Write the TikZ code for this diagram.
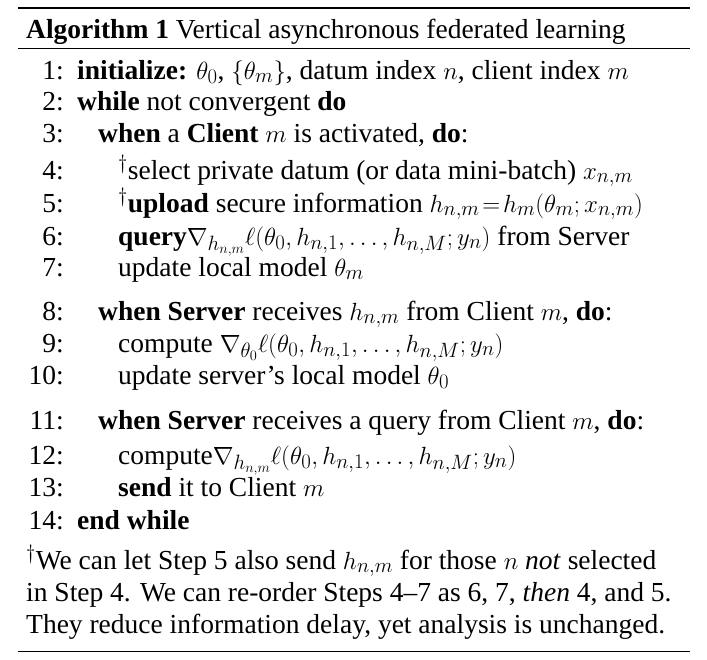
\documentclass[tikz,border=0pt]{standalone}
\usepackage{amsmath}
\usepackage{fontspec}
\setmainfont{Liberation Serif}
\begin{document}
\begin{tikzpicture}[x=1pt,y=-1pt,
  txt/.style={anchor=base west,inner sep=0pt,font=\fontsize{27.5}{32}\selectfont},
  num/.style={anchor=base east,inner sep=0pt,font=\fontsize{27.5}{32}\selectfont}]
\useasboundingbox (0,0) rectangle (707,659);
\draw[line width=1.6pt] (18,8) -- (690,8);
\draw[line width=0.8pt] (18,48) -- (690,48);
\draw[line width=0.8pt] (18,651) -- (690,651);
\node[txt] (title) at (26,38) {\textbf{Algorithm 1} Vertical asynchronous federated learning};
\foreach \n/\y in {1/79,2/110,3/142,4/179,5/212,6/245,7/276,8/320,9/352,10/384,11/429,12/464,13/496,14/529}
  \node[num] (n\n) at (64,\y) {\n:};
\node[txt] (l1) at (77,79) {\textbf{initialize:} $\theta_0$, $\{\theta_m\}$, datum index $n$, client index $m$};
\node[txt] (l2) at (77,110) {\textbf{while} not convergent \textbf{do}};
\node[txt] (l3) at (98,142) {\textbf{when} a \textbf{Client} $m$ is activated, \textbf{do}:};
\node[txt] (l4) at (118,179) {$^\dagger$select private datum (or data mini-batch) $x_{n,m}$};
\node[txt] (l5) at (118,212) {$^\dagger$\textbf{upload} secure information $h_{n,m}\!=\!h_m(\theta_m;x_{n,m})$};
\node[txt] (l6) at (118,245) {\textbf{query}$\nabla_{h_{n,m}}\ell(\theta_0,h_{n,1},\ldots,h_{n,M};y_n)$ from Server};
\node[txt] (l7) at (118,276) {update local model $\theta_m$};
\node[txt] (l8) at (98,320) {\textbf{when Server} receives $h_{n,m}$ from Client $m$, \textbf{do}:};
\node[txt] (l9) at (118,352) {compute $\nabla_{\theta_0}\ell(\theta_0,h_{n,1},\ldots,h_{n,M};y_n)$};
\node[txt] (l10) at (118,384) {update server's local model $\theta_0$};
\node[txt] (l11) at (98,429) {\textbf{when Server} receives a query from Client $m$, \textbf{do}:};
\node[txt] (l12) at (118,464) {compute$\nabla_{h_{n,m}}\ell(\theta_0,h_{n,1},\ldots,h_{n,M};y_n)$};
\node[txt] (l13) at (118,496) {\textbf{send} it to Client $m$};
\node[txt] (l14) at (77,529) {\textbf{end while}};
\node[txt] (f1) at (26,569) {$^\dagger$We can let Step 5 also send $h_{n,m}$ for those $n$ \textit{not} selected};
\node[txt] (f2) at (26,601) {in Step 4. We can re-order Steps 4--7 as 6, 7, \textit{then} 4, and 5.};
\node[txt] (f3) at (26,633) {They reduce information delay, yet analysis is unchanged.};
\end{tikzpicture}
\end{document}
